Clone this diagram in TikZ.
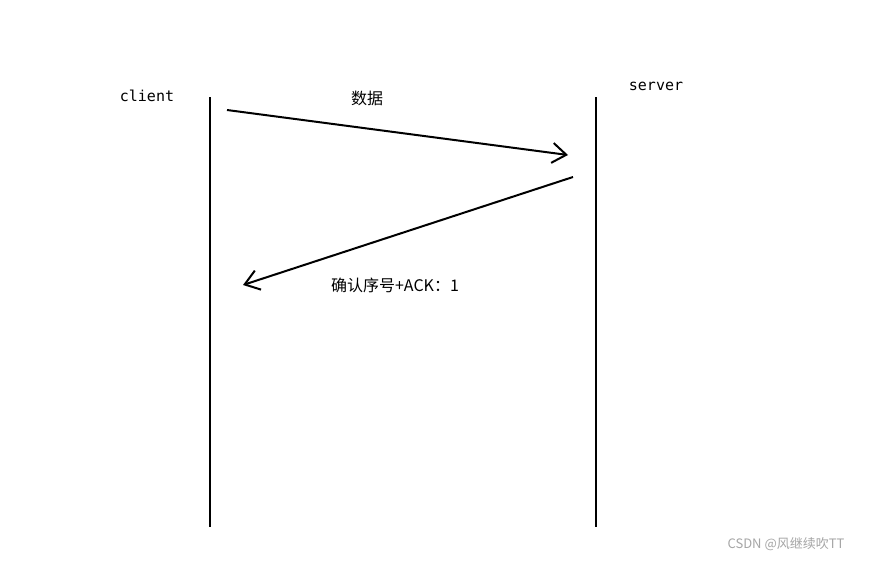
\documentclass[tikz,border=0pt]{standalone}
\usepackage{fontspec}
\setmonofont{DejaVu Sans Mono}
\newfontfamily\cjk{Noto Sans CJK SC}
\usetikzlibrary{arrows.meta}
\begin{document}
\begin{tikzpicture}[x=1pt,y=-1pt,
  life/.style={line width=2.5pt},
  msg/.style={line width=2pt,-{Straight Barb[length=14pt,width=20pt,line width=2pt]}},
  lbl/.style={font=\ttfamily\fontsize{15}{18}\selectfont, inner sep=0pt},
  cn/.style={font=\cjk\fontsize{16}{19}\selectfont, inner sep=0pt}]
\useasboundingbox[fill=white] (0,0) rectangle (887,563);
\coordinate (c1) at (210,97); \coordinate (c2) at (210,527);
\coordinate (s1) at (596,97); \coordinate (s2) at (596,527);
\draw[life] (c1) -- (c2);
\draw[life] (s1) -- (s2);
\coordinate (a1) at (227,110); \coordinate (a2) at (568,155);
\coordinate (b1) at (573,177); \coordinate (b2) at (243,285);
\draw[msg] (a1) -- (a2);
\draw[msg] (b1) -- (b2);
\node[lbl] (cl) at (147,96) {client};
\node[lbl] (sv) at (656,86) {server};
\node[cn] (d) at (367,98) {数据};
\node[cn] (ack) at (395,285) {确认序号+ACK：1};
\node[font=\cjk\fontsize{13}{15}\selectfont, text=gray!70, inner sep=0pt] (wm) at (786,544) {CSDN @风继续吹TT};
\end{tikzpicture}
\end{document}
